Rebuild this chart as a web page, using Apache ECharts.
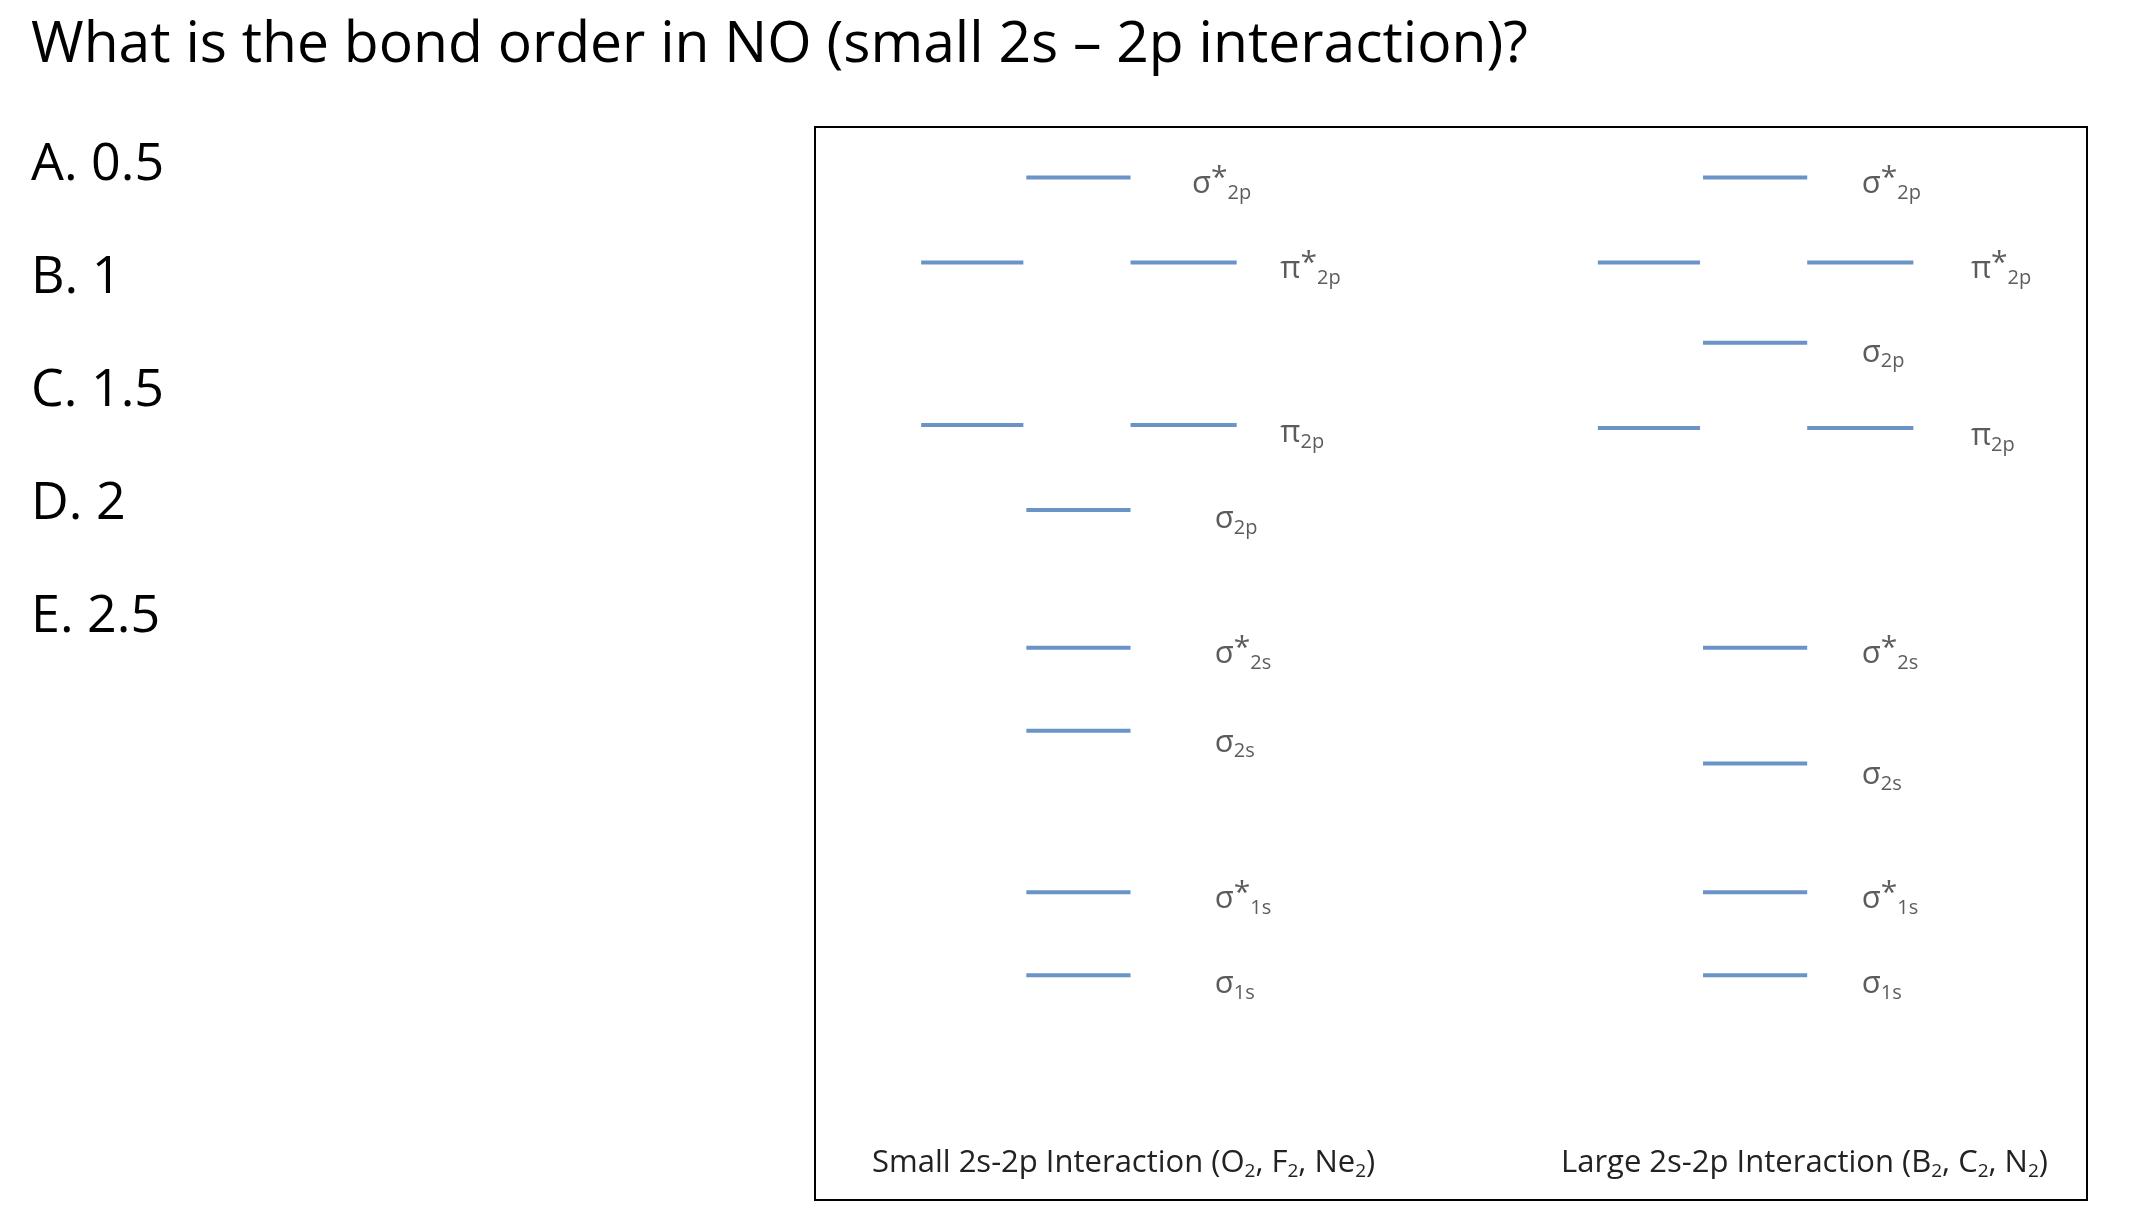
<!DOCTYPE html>
<html>
<head>
<meta charset="utf-8">
<script src="https://cdn.jsdelivr.net/npm/echarts@6/dist/echarts.min.js"></script>
<style>
  html, body { margin: 0; padding: 0; background: #fff; }
  #chart { width: 2132px; height: 1220px; }
</style>
</head>
<body>
<div id="chart"></div>
<script>
// 题目与选项
var question = 'What is the bond order in NO (small 2s \u2013 2p interaction)?';
var choices = ['A. 0.5', 'B. 1', 'C. 1.5', 'D. 2', 'E. 2.5'];
var captions = [
    'Small 2s-2p Interaction (O{sub|2}, F{sub|2}, Ne{sub|2})',
    'Large 2s-2p Interaction (B{sub|2}, C{sub|2}, N{sub|2})'
];

// 能级：[x起点, x终点, 高度]  (框内坐标)
var smallLevels = [
    [213, 318, 51], [107, 210, 137], [318, 425, 137],
    [107, 210, 301], [318, 425, 301], [213, 318, 387],
    [213, 318, 526], [213, 318, 610], [213, 318, 773], [213, 318, 857]
];
var largeLevels = [
    [895, 1000, 51], [789, 892, 137], [1000, 1107, 137],
    [895, 1000, 218], [789, 892, 304], [1000, 1107, 304],
    [895, 1000, 526], [895, 1000, 643], [895, 1000, 773], [895, 1000, 857]
];

// 轨道标签：[x, y, 文本]
var smallLabels = [
    [380, 58, '\u03c3{sup|*}{sub|2p}'], [469, 144, '\u03c0{sup|*}{sub|2p}'],
    [469, 309, '\u03c0{sub|2p}'], [403, 396, '\u03c3{sub|2p}'],
    [403, 533, '\u03c3{sup|*}{sub|2s}'], [403, 622, '\u03c3{sub|2s}'],
    [403, 780, '\u03c3{sup|*}{sub|1s}'], [403, 866, '\u03c3{sub|1s}']
];
var largeLabels = [
    [1055, 58, '\u03c3{sup|*}{sub|2p}'], [1165, 144, '\u03c0{sup|*}{sub|2p}'],
    [1055, 228, '\u03c3{sub|2p}'], [1165, 312, '\u03c0{sub|2p}'],
    [1055, 533, '\u03c3{sup|*}{sub|2s}'], [1055, 655, '\u03c3{sub|2s}'],
    [1055, 780, '\u03c3{sup|*}{sub|1s}'], [1055, 866, '\u03c3{sub|1s}']
];

var chart = echarts.init(document.getElementById('chart'));

var titles = [{
    text: question, left: 26, top: 12,
    textStyle: { fontFamily: 'Open Sans', fontSize: 57, fontWeight: 'normal', color: '#000' }
}];
choices.forEach(function (c, i) {
    titles.push({
        text: c, left: 26, top: 134 + i * 113,
        textStyle: { fontFamily: 'Open Sans', fontSize: 52, fontWeight: 'normal', color: '#000' }
    });
});

var rich = {
    sup: { fontSize: 30, fontFamily: 'Open Sans', color: '#333', padding: [0, 0, 12, 0] },
    sub: { fontSize: 20, fontFamily: 'Open Sans', color: '#333', padding: [18, 0, 0, 0] }
};

function levelSeries(levels) {
    return {
        type: 'custom',
        data: levels,
        renderItem: function (params, api) {
            var p1 = api.coord([api.value(0), api.value(2)]);
            var p2 = api.coord([api.value(1), api.value(2)]);
            return {
                type: 'line',
                shape: { x1: p1[0], y1: p1[1], x2: p2[0], y2: p2[1] },
                style: { stroke: '#6a93c8', lineWidth: 4 }
            };
        },
        silent: true
    };
}

function labelSeries(labels) {
    return {
        type: 'scatter',
        symbolSize: 0,
        data: labels.map(function (l) { return { value: [l[0], l[1]], name: l[2] }; }),
        label: {
            show: true, position: 'right', distance: 0,
            formatter: function (p) { return p.name; },
            fontFamily: 'Open Sans', fontSize: 31, color: '#333',
            rich: rich
        },
        silent: true
    };
}

var option = {
    backgroundColor: '#fff',
    title: titles,
    grid: {
        left: 815, top: 127, width: 1272, height: 1073,
        show: true, borderColor: '#000', borderWidth: 2, backgroundColor: '#fff'
    },
    xAxis: { type: 'value', min: 0, max: 1282, show: false },
    yAxis: { type: 'value', min: 0, max: 1084, inverse: true, show: false },
    graphic: captions.map(function (c, i) {
        return {
            type: 'text', left: i === 0 ? 872 : 1561, top: 1148,
            style: {
                text: c, fontFamily: 'Open Sans', fontSize: 31, fill: '#222',
                rich: { sub: { fontSize: 19, fontFamily: 'Open Sans', fill: '#222', padding: [16, 0, 0, 0] } }
            }
        };
    }),
    series: [
        levelSeries(smallLevels),
        levelSeries(largeLevels),
        labelSeries(smallLabels),
        labelSeries(largeLabels)
    ]
};

chart.setOption(option);
</script>
</body>
</html>
